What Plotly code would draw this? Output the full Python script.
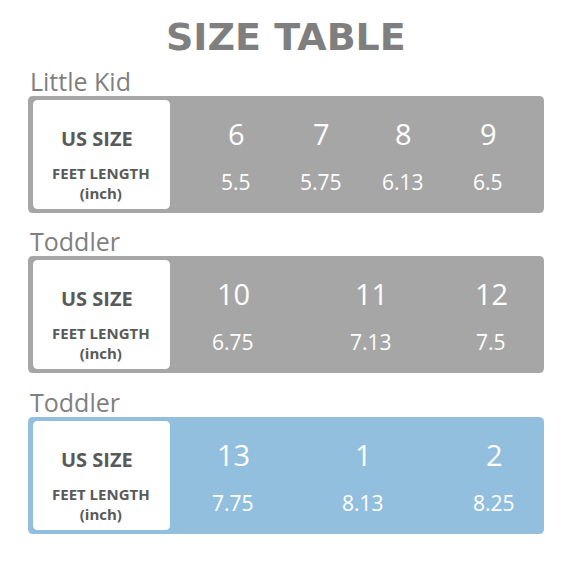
import plotly.graph_objects as go

title = "SIZE TABLE"
groups = ["Little Kid", "Toddler", "Toddler"]
us_sizes = [["6", "7", "8", "9"], ["10", "11", "12"], ["13", "1", "2"]]
feet_len = [["5.5", "5.75", "6.13", "6.5"], ["6.75", "7.13", "7.5"], ["7.75", "8.13", "8.25"]]
size_x = [[236, 321, 403, 488], [233, 371, 491], [233, 363, 494]]
panel_colors = ["#a7a6a6", "#a7a6a6", "#93bfdf"]
panel_top = [96, 256, 417]

def rrect(x0, y0, x1, y1, r):
    return (f"M{x0+r},{y0} L{x1-r},{y0} Q{x1},{y0} {x1},{y0+r} L{x1},{y1-r} Q{x1},{y1} {x1-r},{y1} "
            f"L{x0+r},{y1} Q{x0},{y1} {x0},{y1-r} L{x0},{y0+r} Q{x0},{y0} {x0+r},{y0} Z")

fig = go.Figure()
shapes, ann = [], []
ann.append(dict(x=286, y=37, text="<b>"+title+"</b>", font=dict(size=38, color="#7f7f7f", family="DejaVu Sans"), showarrow=False))
for i, g in enumerate(groups):
    t = panel_top[i]
    ann.append(dict(x=28, y=t-15, text=g, xanchor="left", font=dict(size=25, color="#7f7f7f", family="Open Sans"), showarrow=False))
    shapes.append(dict(type="path", path=rrect(28, t, 544, t+117, 5), fillcolor=panel_colors[i], line=dict(width=0), layer="below"))
    shapes.append(dict(type="path", path=rrect(33, t+4, 170, t+113, 5), fillcolor="white", line=dict(width=0)))
    ann.append(dict(x=97, y=t+42, text="<b>US SIZE</b>", font=dict(size=20, color="#595959", family="Open Sans"), showarrow=False))
    ann.append(dict(x=101, y=t+87, text="<b>FEET LENGTH</b><br><b>(inch)</b>", font=dict(size=15, color="#595959", family="Open Sans"), showarrow=False))
    for s, f, x in zip(us_sizes[i], feet_len[i], size_x[i]):
        ann.append(dict(x=x, y=t+37, text=s, font=dict(size=29, color="white", family="Open Sans"), showarrow=False))
        ann.append(dict(x=x, y=t+86, text=f, font=dict(size=21, color="white", family="Open Sans"), showarrow=False))

fig.update_layout(width=573, height=573, margin=dict(l=0, r=0, t=0, b=0),
                  paper_bgcolor="white", plot_bgcolor="white", shapes=shapes, annotations=ann,
                  xaxis=dict(range=[8, 581], visible=False, fixedrange=True),
                  yaxis=dict(range=[581, 8], visible=False, fixedrange=True), showlegend=False)
fig.write_html("out.html")
